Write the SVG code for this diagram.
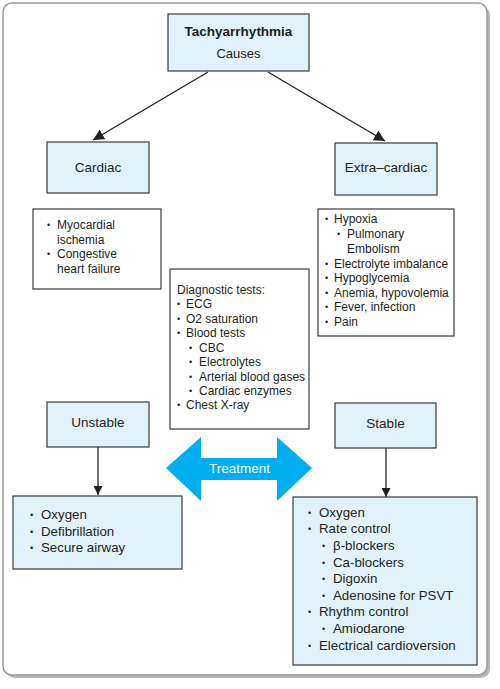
<svg xmlns="http://www.w3.org/2000/svg" width="500" height="689" viewBox="0 0 500 689">
<style>
text{font-family:"Liberation Sans",Arial,sans-serif;fill:#231f20}
.n{fill:#e1f2fb;stroke:#3a3a3a;stroke-width:1.2}
.w{fill:#ffffff;stroke:#3a3a3a;stroke-width:1.2}
.l{font-size:12px}
.lb{font-size:13.3px}
.b{font-size:9px}
.c{font-size:13.5px;text-anchor:middle}
.con{stroke:#231f20;stroke-width:1.3;fill:none}
</style>
<defs>
<marker id="ah" viewBox="0 0 10 10" refX="10" refY="5" markerWidth="9" markerHeight="9" markerUnits="userSpaceOnUse" orient="auto">
<path d="M0,0 L10,5 L0,10 z" fill="#231f20"/>
</marker>
<marker id="ah2" viewBox="0 0 10 10" refX="10" refY="5" markerWidth="11" markerHeight="11" markerUnits="userSpaceOnUse" orient="auto">
<path d="M0,0 L10,5 L0,10 z" fill="#231f20"/>
</marker>
</defs>
<rect x="0" y="0" width="500" height="689" fill="#ffffff"/>
<g id="frame">
<rect x="6" y="6" width="484" height="672" rx="9" fill="#b5b5b5"/>
<rect x="3" y="3" width="484" height="672" rx="9" fill="#ffffff" stroke="#9a9a9a" stroke-width="1.5"/>
</g>
<g id="connectors">
<line class="con" x1="208" y1="72" x2="93" y2="140" marker-end="url(#ah2)"/>
<line class="con" x1="268" y1="72" x2="385" y2="141" marker-end="url(#ah2)"/>
<line class="con" x1="98" y1="447" x2="98" y2="495" marker-end="url(#ah)"/>
<line class="con" x1="386" y1="448" x2="386" y2="497" marker-end="url(#ah)"/>
</g>
<g id="title">
<rect class="n" x="168" y="14" width="141" height="57"/>
<text class="c" x="238.5" y="36" style="font-weight:bold">Tachyarrhythmia</text>
<text class="c" x="238.5" y="58" style="font-size:13px">Causes</text>
</g>
<g id="cardiac">
<rect class="n" x="47" y="142" width="102" height="51"/>
<text class="c" x="98" y="172">Cardiac</text>
</g>
<g id="extracardiac">
<rect class="n" x="335" y="143" width="102" height="52"/>
<text class="c" x="386" y="172">Extra–cardiac</text>
</g>
<g id="cardiac-causes">
<rect class="w" x="33" y="209" width="128" height="80"/>
<text class="b" x="47" y="228">•</text><text class="l" x="57" y="229">Myocardial</text>
<text class="l" x="57" y="244">ischemia</text>
<text class="b" x="47" y="257">•</text><text class="l" x="57" y="258">Congestive</text>
<text class="l" x="57" y="273">heart failure</text>
</g>
<g id="extracardiac-causes">
<rect class="w" x="318" y="209" width="136" height="127"/>
<text class="b" x="325" y="222">•</text><text class="l" x="334" y="223">Hypoxia</text>
<text class="b" x="337" y="237">•</text><text class="l" x="347" y="238">Pulmonary</text>
<text class="l" x="347" y="253">Embolism</text>
<text class="b" x="325" y="267">•</text><text class="l" x="334" y="268">Electrolyte imbalance</text>
<text class="b" x="325" y="281">•</text><text class="l" x="334" y="282">Hypoglycemia</text>
<text class="b" x="325" y="296">•</text><text class="l" x="334" y="297">Anemia, hypovolemia</text>
<text class="b" x="325" y="310">•</text><text class="l" x="334" y="311">Fever, infection</text>
<text class="b" x="325" y="325">•</text><text class="l" x="334" y="326">Pain</text>
</g>
<g id="diagnostic">
<rect class="w" x="170" y="269" width="139" height="160"/>
<text class="l" x="177" y="294">Diagnostic tests:</text>
<text class="b" x="177" y="307">•</text><text class="l" x="186" y="308">ECG</text>
<text class="b" x="177" y="322">•</text><text class="l" x="186" y="323">O2 saturation</text>
<text class="b" x="177" y="336">•</text><text class="l" x="186" y="337">Blood tests</text>
<text class="b" x="189" y="351">•</text><text class="l" x="199" y="352">CBC</text>
<text class="b" x="189" y="365">•</text><text class="l" x="199" y="366">Electrolytes</text>
<text class="b" x="189" y="380">•</text><text class="l" x="199" y="381">Arterial blood gases</text>
<text class="b" x="189" y="394">•</text><text class="l" x="199" y="395">Cardiac enzymes</text>
<text class="b" x="177" y="408">•</text><text class="l" x="186" y="409">Chest X-ray</text>
</g>
<g id="unstable">
<rect class="n" x="47" y="402" width="102" height="45"/>
<text class="c" x="98" y="427">Unstable</text>
</g>
<g id="stable">
<rect class="n" x="335" y="403" width="101" height="45"/>
<text class="c" x="385.5" y="428">Stable</text>
</g>
<g id="treatment">
<polygon points="166,468 201,437 201,458 277,458 277,437 312,468 277,501 277,480 201,480 201,501" fill="#00aeef"/>
<text x="239.5" y="473" style="font-size:13.5px;text-anchor:middle;fill:#ffffff">Treatment</text>
</g>
<g id="unstable-treatment">
<rect class="n" x="13" y="496" width="169" height="73"/>
<text class="b" x="30" y="518">•</text><text class="lb" x="41" y="519">Oxygen</text>
<text class="b" x="30" y="535">•</text><text class="lb" x="41" y="536">Defibrillation</text>
<text class="b" x="30" y="551">•</text><text class="lb" x="41" y="552">Secure airway</text>
</g>
<g id="stable-treatment">
<rect class="n" x="293" y="497" width="184" height="168"/>
<text class="b" x="308" y="516">•</text><text class="lb" x="319" y="517">Oxygen</text>
<text class="b" x="308" y="532">•</text><text class="lb" x="319" y="533">Rate control</text>
<text class="b" x="322" y="549">•</text><text class="lb" x="333" y="550">β-blockers</text>
<text class="b" x="322" y="566">•</text><text class="lb" x="333" y="567">Ca-blockers</text>
<text class="b" x="322" y="582">•</text><text class="lb" x="333" y="583">Digoxin</text>
<text class="b" x="322" y="599">•</text><text class="lb" x="333" y="600">Adenosine for PSVT</text>
<text class="b" x="308" y="615">•</text><text class="lb" x="319" y="616">Rhythm control</text>
<text class="b" x="322" y="632">•</text><text class="lb" x="333" y="633">Amiodarone</text>
<text class="b" x="308" y="649">•</text><text class="lb" x="319" y="650">Electrical cardioversion</text>
</g>
</svg>
